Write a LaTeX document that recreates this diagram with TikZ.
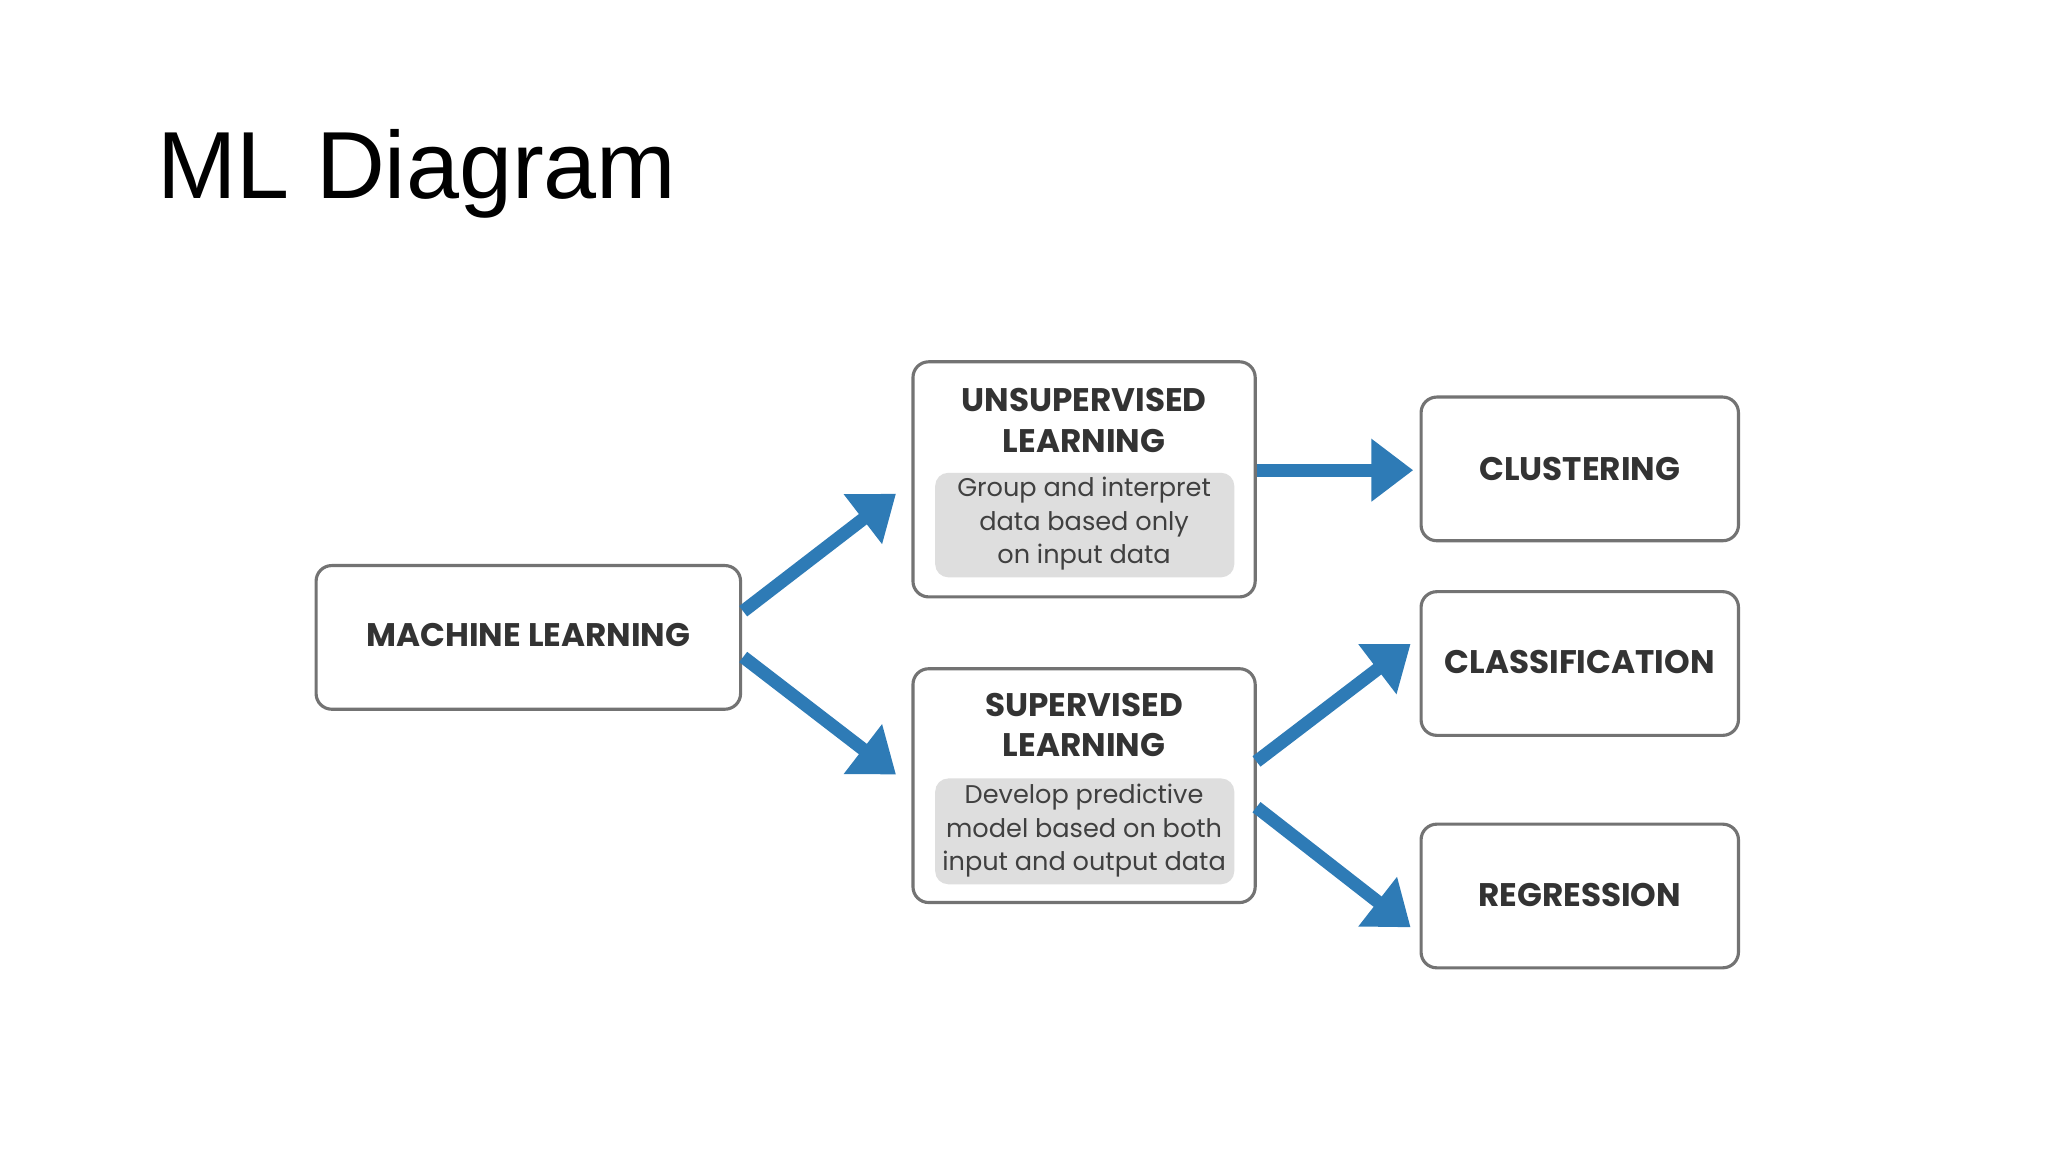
\documentclass[tikz,border=0pt]{standalone}
\usepackage{fontspec}
\setmainfont{Liberation Sans}
\newfontfamily\geo{Poppins}
\usetikzlibrary{arrows.meta}
\definecolor{arrblue}{HTML}{2E7BB6}
\begin{document}
\begin{tikzpicture}[x=0.5pt,y=-0.5pt,
 box/.style={draw=black!55,line width=1.2pt,rounded corners=6pt,fill=white},
 inner/.style={fill=black!13,rounded corners=5pt},
 ttl/.style={font=\geo\bfseries\fontsize{12.5}{15.5}\selectfont,text=black!80,align=center},
 desc/.style={font=\geo\fontsize{9.8}{12.8}\selectfont,text=black!75,align=center},
 arr/.style={draw=arrblue,line width=5pt,-{Triangle[width=23pt,length=16pt]}}]
\useasboundingbox (0,0) rectangle (1568,882);
\node[anchor=base west,inner sep=0pt,font=\fontsize{36.5}{42}\selectfont] (title) at (120,152) {ML Diagram};
% boxes
\draw[box] (242,433) rectangle (567,543); \node[ttl] (ml) at (404.5,486) {MACHINE LEARNING};
\draw[box] (699,277) rectangle (961,457);
\node[ttl] (uns) at (830,322) {UNSUPERVISED\\LEARNING};
\fill[inner] (716,362) rectangle (945,442);
\node[desc] (unsd) at (830,401) {Group and interpret\\data based only\\on input data};
\draw[box] (699,512) rectangle (961,691);
\node[ttl] (sup) at (830,555) {SUPERVISED\\LEARNING};
\fill[inner] (716,596) rectangle (945,677);
\node[desc] (supd) at (830,636) {Develop predictive\\model based on both\\input and output data};
\draw[box] (1088,304) rectangle (1331,414); \node[ttl] (clu) at (1209.5,359) {CLUSTERING};
\draw[box] (1088,453) rectangle (1331,563); \node[ttl] (cla) at (1209.5,507) {CLASSIFICATION};
\draw[box] (1088,631) rectangle (1331,741); \node[ttl] (reg) at (1209.5,685) {REGRESSION};
% arrow endpoints
\coordinate (a1) at (569,468); \coordinate (b1) at (686,378);
\coordinate (a2) at (569,503); \coordinate (b2) at (686,593);
\coordinate (a3) at (962,360); \coordinate (b3) at (1082,360);
\coordinate (a4) at (962,583); \coordinate (b4) at (1080,493);
\coordinate (a5) at (962,618); \coordinate (b5) at (1080,710);
\draw[arr] (a1) -- (b1);
\draw[arr] (a2) -- (b2);
\draw[arr] (a3) -- (b3);
\draw[arr] (a4) -- (b4);
\draw[arr] (a5) -- (b5);
\end{tikzpicture}
\end{document}
